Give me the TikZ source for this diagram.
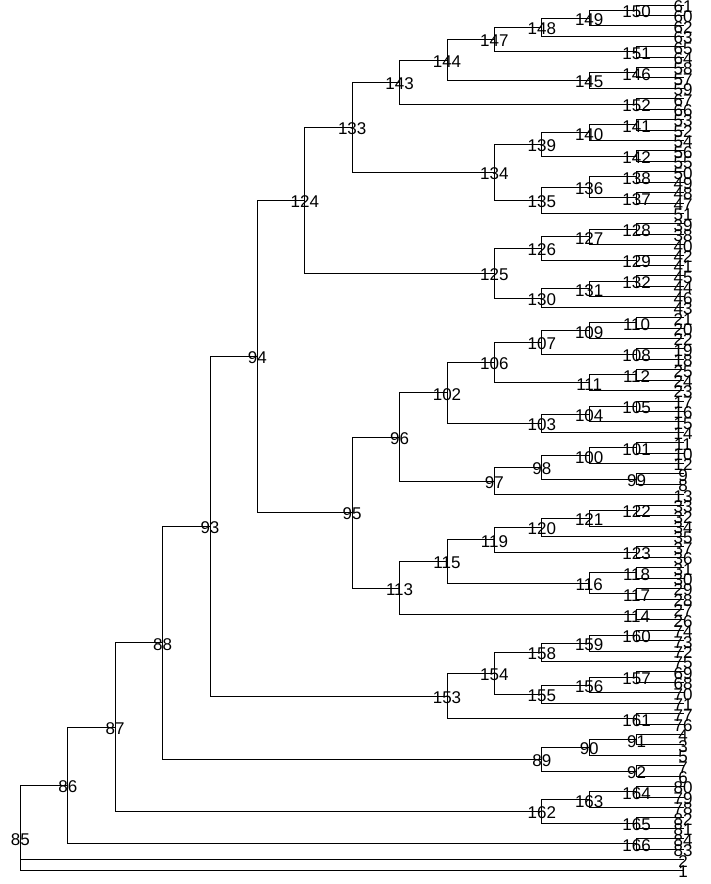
\documentclass[tikz,border=0pt]{standalone}
\usepackage{fontspec}
\setmainfont{Liberation Sans}
\usetikzlibrary{calc}
\tikzset{
  nlab/.style={inner sep=0pt, font=\fontsize{17}{17}\selectfont, text=black, yshift=-1.5pt},
  tlab/.style={inner sep=0pt, anchor=center, font=\fontsize{17}{17}\selectfont, text=black, yshift=-1.5pt},
  edge/.style={draw=black, line width=1pt},
}
\newcommand\nd[4]{%
  \path let \p1=(#3), \p2=(#4) in coordinate (C#1) at ({(684-47.4*#2)*1pt},{(\y1+\y2)/2});
  \node[nlab] (N#1) at (C#1) {#1};
  \draw[edge] (C#1) |- (#3);
  \draw[edge] (C#1) |- (#4);
}
\begin{document}
\begin{tikzpicture}[x=1pt,y=-1pt]
\useasboundingbox (0,0) rectangle (711,884);
\foreach \lab [count=\k] in {61,60,62,63,65,64,58,57,59,67,66,53,52,54,56,55,50,49,48,47,51,39,38,40,42,41,45,44,46,43,21,20,22,19,18,25,24,23,17,16,15,14,11,10,12,9,8,13,33,32,34,35,37,36,31,30,29,28,27,26,74,73,72,75,69,68,70,71,77,76,4,3,5,7,6,80,79,78,82,81,84,83,2,1}{
  \coordinate (L\lab) at (684,{5+(\k-1)*10.42169});
  \node[tlab] (T\lab) at (683,{5+(\k-1)*10.42169}) {\lab};
}
\nd{150}{1}{L61}{L60}
\nd{149}{2}{C150}{L62}
\nd{148}{3}{C149}{L63}
\nd{151}{1}{L65}{L64}
\nd{147}{4}{C148}{C151}
\nd{146}{1}{L58}{L57}
\nd{145}{2}{C146}{L59}
\nd{144}{5}{C147}{C145}
\nd{152}{1}{L67}{L66}
\nd{143}{6}{C144}{C152}
\nd{141}{1}{L53}{L52}
\nd{140}{2}{C141}{L54}
\nd{142}{1}{L56}{L55}
\nd{139}{3}{C140}{C142}
\nd{138}{1}{L50}{L49}
\nd{137}{1}{L48}{L47}
\nd{136}{2}{C138}{C137}
\nd{135}{3}{C136}{L51}
\nd{134}{4}{C139}{C135}
\nd{133}{7}{C143}{C134}
\nd{128}{1}{L39}{L38}
\nd{127}{2}{C128}{L40}
\nd{129}{1}{L42}{L41}
\nd{126}{3}{C127}{C129}
\nd{132}{1}{L45}{L44}
\nd{131}{2}{C132}{L46}
\nd{130}{3}{C131}{L43}
\nd{125}{4}{C126}{C130}
\nd{124}{8}{C133}{C125}
\nd{110}{1}{L21}{L20}
\nd{109}{2}{C110}{L22}
\nd{108}{1}{L19}{L18}
\nd{107}{3}{C109}{C108}
\nd{112}{1}{L25}{L24}
\nd{111}{2}{C112}{L23}
\nd{106}{4}{C107}{C111}
\nd{105}{1}{L17}{L16}
\nd{104}{2}{C105}{L15}
\nd{103}{3}{C104}{L14}
\nd{102}{5}{C106}{C103}
\nd{101}{1}{L11}{L10}
\nd{100}{2}{C101}{L12}
\nd{99}{1}{L9}{L8}
\nd{98}{3}{C100}{C99}
\nd{97}{4}{C98}{L13}
\nd{96}{6}{C102}{C97}
\nd{122}{1}{L33}{L32}
\nd{121}{2}{C122}{L34}
\nd{120}{3}{C121}{L35}
\nd{123}{1}{L37}{L36}
\nd{119}{4}{C120}{C123}
\nd{118}{1}{L31}{L30}
\nd{117}{1}{L29}{L28}
\nd{116}{2}{C118}{C117}
\nd{115}{5}{C119}{C116}
\nd{114}{1}{L27}{L26}
\nd{113}{6}{C115}{C114}
\nd{95}{7}{C96}{C113}
\nd{94}{9}{C124}{C95}
\nd{160}{1}{L74}{L73}
\nd{159}{2}{C160}{L72}
\nd{158}{3}{C159}{L75}
\nd{157}{1}{L69}{L68}
\nd{156}{2}{C157}{L70}
\nd{155}{3}{C156}{L71}
\nd{154}{4}{C158}{C155}
\nd{161}{1}{L77}{L76}
\nd{153}{5}{C154}{C161}
\nd{93}{10}{C94}{C153}
\nd{91}{1}{L4}{L3}
\nd{90}{2}{C91}{L5}
\nd{92}{1}{L7}{L6}
\nd{89}{3}{C90}{C92}
\nd{88}{11}{C93}{C89}
\nd{164}{1}{L80}{L79}
\nd{163}{2}{C164}{L78}
\nd{165}{1}{L82}{L81}
\nd{162}{3}{C163}{C165}
\nd{87}{12}{C88}{C162}
\nd{166}{1}{L84}{L83}
\nd{86}{13}{C87}{C166}
\path let \p1=(C86), \p2=(L2), \p3=(L1) in coordinate (C85) at ({(684-47.4*14)*1pt},{(\y1+\y2+\y3)/3});
\node[nlab] (N85) at (C85) {85};
\draw[edge] (C85) |- (C86);
\draw[edge] (C85) |- (L2);
\draw[edge] (C85) |- (L1);
\end{tikzpicture}
\end{document}
